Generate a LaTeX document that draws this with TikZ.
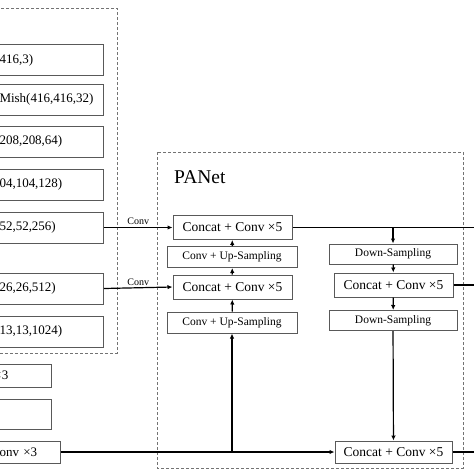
\documentclass[tikz,border=0pt]{standalone}
\usepackage{fontspec}
\setmainfont{Liberation Serif}
\usetikzlibrary{arrows.meta}
\tikzset{
  blk/.style={draw=black!65, line width=1pt, fill=white, inner xsep=4pt, inner ysep=0pt, font=\fontsize{13}{15}\selectfont},
  lay/.style={blk, anchor=east, text width=#1, align=left},
  pan/.style={blk, minimum width=119pt, minimum height=24pt, font=\fontsize{13.5}{15}\selectfont},
  smp/.style={blk, minimum width=130pt, minimum height=21pt, font=\fontsize{11.5}{13}\selectfont},
  grp/.style={draw=black!55, densely dashed, line width=1pt},
  lnk/.style={line width=1.2pt, -{Latex[length=5pt,width=4.5pt]}},
  wire/.style={line width=1.2pt},
}
\begin{document}
\begin{tikzpicture}[x=1pt,y=-1pt]
    \useasboundingbox (0,0) rectangle (474,474);
    \clip (0,0) rectangle (474,474);
    % backbone
    \draw[grp] (-5,8) rectangle (117,353);
    \foreach \n/\y/\t in {1/60/{416,3)}, 2/99.5/{Mish(416,416,32)}, 3/141.5/{208,208,64)},
        4/184.5/{04,104,128)}, 5/227.5/{52,52,256)}, 6/288.5/{26,26,512)}, 7/331.5/{13,13,1024)}}
    \node[lay=100, minimum height=31pt] (l\n) at (104,\y) {\t};
    \node[lay=53, minimum height=23pt] (l8) at (52,375.5) {×3};
    \node[lay=53, minimum height=30pt] (l9) at (52,414) {};
    \node[lay=57, minimum height=22pt] (l10) at (61,452) {onv ×3};
    % PANet
    \draw[grp] (157,152) rectangle (463,468);
    \node[anchor=west, inner sep=0pt, font=\fontsize{19.5}{22}\selectfont] (pn) at (174,177) {PANet};
    \node[pan] (c1) at (232.5,227.5) {Concat + Conv ×5};
    \node[smp] (u1) at (232,257) {Conv + Up-Sampling};
    \node[pan] (c2) at (232.5,287) {Concat + Conv ×5};
    \node[smp] (u2) at (232,322.5) {Conv + Up-Sampling};
    \node[smp, minimum width=128pt, minimum height=20pt] (d1) at (393,254) {Down-Sampling};
    \node[pan] (c3) at (393.5,285) {Concat + Conv ×5};
    \node[smp, minimum width=128pt, minimum height=20pt] (d2) at (393,320.5) {Down-Sampling};
    \node[pan, minimum width=117pt, minimum height=22pt] (c4) at (393.5,452) {Concat + Conv ×5};
    \coordinate (o1) at (480,227.5);
    \coordinate (o2) at (480,285);
    \coordinate (o3) at (480,452);
    \coordinate (j1) at (c1.east -| d1.north);
    \coordinate (j2) at (l10.east -| u2.south);
    % connections
    \draw[lnk] (l5.east) -- node[above, inner sep=2pt, font=\fontsize{10}{12}\selectfont] {Conv} (c1.west);
    \draw[lnk] (l6.east) -- node[above, inner sep=2pt, font=\fontsize{10}{12}\selectfont] {Conv} (c2.west);
    \draw[lnk] (l10.east) -- (c4.west);
    \draw[lnk] (j2) -- (u2.south);
    \draw[lnk] (u2) -- (c2);
    \draw[lnk] (c2) -- (u1);
    \draw[lnk] (u1) -- (c1);
    \draw[wire] (c1.east) -- (o1);
    \draw[lnk] (j1) -- (d1.north);
    \draw[lnk] (d1) -- (c3);
    \draw[lnk] (c3) -- (d2);
    \draw[lnk] (d2) -- (c4);
    \draw[wire] (c3.east) -- (o2);
    \draw[wire] (c4.east) -- (o3);
\end{tikzpicture}
\end{document}
